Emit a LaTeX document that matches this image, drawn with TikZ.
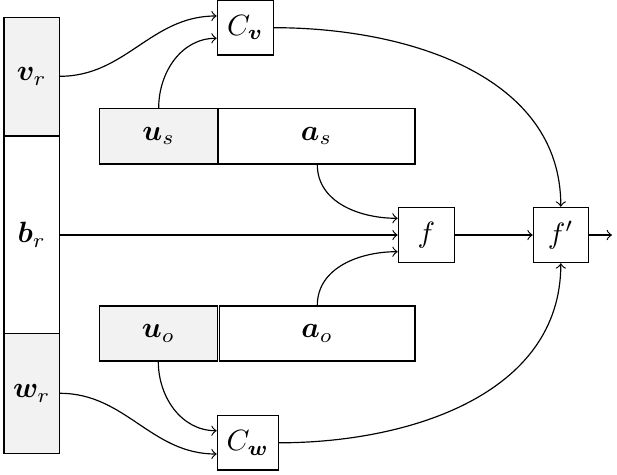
\documentclass[tikz,border=0pt]{standalone}
\usepackage{amsmath,bm}
\usetikzlibrary{calc}
\definecolor{boxgray}{HTML}{F2F2F2}
\tikzset{
  box/.style={draw, inner sep=0pt, align=center},
  gbox/.style={box, fill=boxgray},
  conn/.style={->},
}
\newcommand{\pxu}{0.341pt}
\begin{document}
\begin{tikzpicture}[x=0.341pt, y=-0.341pt]
\useasboundingbox (0,0) rectangle (617,474);
% left column
\node[gbox, minimum width=55.3*\pxu, minimum height=118*\pxu] (vr) at (31.7,76.3) {$\bm{v}_r$};
\node[box, minimum width=55.3*\pxu, minimum height=196.6*\pxu] (br) at (31.7,235) {$\bm{b}_r$};
\node[gbox, minimum width=55.3*\pxu, minimum height=120*\pxu] (wr) at (31.7,393.3) {$\bm{w}_r$};
% C boxes
\node[box, minimum width=56*\pxu, minimum height=54.7*\pxu] (Cv) at (245.3,27.7) {$C_{\bm{v}}$};
\node[box, minimum width=61*\pxu, minimum height=54.3*\pxu] (Cw) at (247.8,442.8) {$C_{\bm{w}}$};
% subject / object rows
\node[gbox, minimum width=118.7*\pxu, minimum height=55.7*\pxu] (us) at (158.7,136.2) {$\bm{u}_s$};
\node[box, minimum width=197*\pxu, minimum height=55.7*\pxu] (as) at (316.5,136.2) {$\bm{a}_s$};
\node[gbox, minimum width=118*\pxu, minimum height=55*\pxu] (uo) at (158.3,333.5) {$\bm{u}_o$};
\node[box, minimum width=195.7*\pxu, minimum height=55*\pxu] (ao) at (317.2,333.5) {$\bm{a}_o$};
% f boxes
\node[box, minimum width=56*\pxu, minimum height=55.3*\pxu] (f) at (426.3,235) {$f$};
\node[box, minimum width=55*\pxu, minimum height=55.3*\pxu] (fp) at (560.8,235) {$f'$};
\coordinate (out) at (612,235);
% connectors
\draw[conn] (vr.east) to[out=0, in=180] ($(Cv.west)+(0,-11.7)$);
\draw[conn] (us.north) to[out=90, in=180] ($(Cv.west)+(0,10.6)$);
\draw[conn] (wr.east) to[out=0, in=180] ($(Cw.west)+(0,11.2)$);
\draw[conn] (uo.south) to[out=-90, in=180] ($(Cw.west)+(0,-12.1)$);
\draw[conn] ($(as.south)+(0.8,0)$) to[out=-90, in=180] ($(f.west)+(0,-16.7)$);
\draw[conn] (br.east) -- (f.west);
\draw[conn] ($(ao.north)+(0.1,0)$) to[out=90, in=180] ($(f.west)+(0,16.7)$);
\draw[conn] (f.east) -- (fp.west);
\draw[conn] (fp.east) -- (out);
\draw[conn] (Cv.east) to[out=0, in=90] (fp.north);
\draw[conn] (Cw.east) to[out=0, in=-90] (fp.south);
\end{tikzpicture}
\end{document}
